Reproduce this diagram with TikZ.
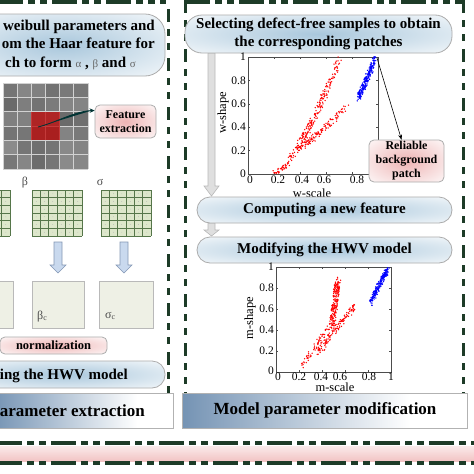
\documentclass[tikz,border=0pt]{standalone}
\usepackage{fontspec}
\setmainfont{Liberation Serif}
\usetikzlibrary{arrows.meta,fadings}
\definecolor{dgreen}{HTML}{1D3B27}
\definecolor{pillblue}{HTML}{A9C7DC}
\definecolor{pinkglow}{HTML}{EEB4B4}
\definecolor{tbdark}{HTML}{1F4A78}
\definecolor{tbmid}{HTML}{6A8BAE}
\definecolor{gridgreen}{HTML}{DDE7CB}
\definecolor{gridline}{HTML}{56764A}
\definecolor{cellbox}{HTML}{EEF0E5}
\definecolor{arrowblue}{HTML}{C9D9EE}
\definecolor{arrowedge}{HTML}{8497B5}
\definecolor{bandpink}{HTML}{F2C4C4}
\pgfdeclareradialshading{glowblue}{\pgfpoint{0bp}{0bp}}{color(0bp)=(pillblue); color(42bp)=(white); color(50bp)=(white)}
\pgfdeclareradialshading{glowpink}{\pgfpoint{0bp}{0bp}}{color(0bp)=(pinkglow); color(40bp)=(white); color(50bp)=(white)}
\pgfdeclarehorizontalshading{tbshade}{100bp}{color(0bp)=(tbdark); color(22bp)=(tbmid); color(65bp)=(white); color(100bp)=(white)}
\begin{document}
\begin{tikzpicture}[x=1pt,y=-1pt,
  vdash/.style={draw=dgreen, line width=3pt, dash pattern=on 13pt off 7pt on 7pt off 7pt on 7pt off 8pt},
  hdash/.style={draw=dgreen, line width=4pt, dash pattern=on 25pt off 5pt on 7pt off 5pt on 7pt off 5pt},
  pill/.style={draw=gray!65, line width=0.8pt, rounded corners=13pt, shade, shading=glowblue, inner sep=0pt},
  pinkbox/.style={draw=gray!65, line width=0.8pt, rounded corners=5pt, shade, shading=glowpink, inner sep=0pt, align=center, font=\bfseries\fontsize{12}{14.5}\selectfont},
  btext/.style={font=\bfseries\fontsize{15}{17.5}\selectfont, inner sep=0pt, align=center},
  ttext/.style={font=\bfseries\fontsize{17}{20}\selectfont, inner sep=0pt},
  tbar/.style={draw=gray!60, line width=0.8pt, shade, shading=tbshade, inner sep=0pt},
  ticklab/.style={font=\fontsize{11.5}{11.5}\selectfont, inner sep=0pt},
  axlab/.style={font=\fontsize{12.5}{12.5}\selectfont, inner sep=0pt},
  greeklab/.style={font=\fontsize{12}{12}\selectfont, text=black!70, inner sep=0pt},
  plotframe/.style={draw=black!70, line width=0.6pt},
  cbox/.style={draw=gray!55, line width=0.6pt, fill=cellbox, inner sep=0pt},
  blockarrow/.style={fill=arrowblue, draw=arrowedge, line width=0.6pt},
  grayarrow/.style={fill=gray!25, draw=gray!55, line width=0.6pt}]
\useasboundingbox (0,0) rectangle (474,474);
\clip (0,0) rectangle (474,474);
\fill[white] (0,0) rectangle (474,474);

% ---- panel borders
\draw[hdash] (-2,1.5) -- (166,1.5);
\draw[hdash] (185,1.5) -- (463,1.5);
\draw[vdash] (168,9) -- (168,393);
\draw[vdash] (185,0) -- (185,393);
\draw[vdash] (463,0) -- (463,393);

% ---- bottom band
\shade[top color=bandpink!35!white, bottom color=bandpink] (0,446) rectangle (474,461);
\draw[hdash] (-3,443) -- (474,443);
\draw[hdash] (-3,463) -- (474,463);

% ================= LEFT PANEL =================
\node[pill, rounded corners=20pt, minimum width=205pt, minimum height=62pt] (est) at (62.5,45) {};
\node[btext, anchor=base east] (est1) at (155,30) {weibull parameters and};
\node[btext, anchor=base east] (est2) at (155,48) {om the Haar feature for};
\node[btext, anchor=base east] (est3) at (136,67) {ch to form {\mdseries\fontsize{11}{11}\selectfont\textcolor{black!60}{α}} , {\mdseries\fontsize{11}{11}\selectfont\textcolor{black!60}{β}} and {\mdseries\fontsize{11}{11}\selectfont\textcolor{black!60}{σ}}};

% dark image grid
\pgfmathsetseed{11}
\foreach \i in {0,...,5}{\foreach \j in {0,...,5}{
  \pgfmathsetmacro\g{45+14*rnd}
  \fill[black!\g] (3+\i*14.17,83+\j*14.33) rectangle ++(14.17,14.33);
}}
\foreach \k in {0,...,6}{
  \draw[gray!35, line width=0.8pt] (3+\k*14.17,83) -- ++(0,86);
  \draw[gray!35, line width=0.8pt] (3,83+\k*14.33) -- ++(85,0);
}
\fill[red!75!black, opacity=0.72] (31.3,111.7) rectangle (59.7,140.3);
\coordinate (redc) at (38,127);

\node[pinkbox, minimum width=61pt, minimum height=33pt] (fe) at (125.5,121.5) {Feature\\extraction};
\draw[-{Stealth[length=5pt,width=4.5pt]}, draw=teal!40!black, fill=teal!40!black, line width=0.8pt] (redc) .. controls (55,123) and (75,111) .. ([yshift=11pt]fe.west);

% green grids
\node[greeklab] (lbeta) at (25,183) {β};
\node[greeklab] (lsigma) at (100,182) {σ};
\foreach \gx in {-40,32,101}{
  \fill[gridgreen] (\gx,190) rectangle ++(50,46);
  \foreach \k in {0,...,6}{
    \draw[gridline, line width=0.7pt] (\gx+\k*8.333,190) -- ++(0,46);
    \draw[gridline, line width=0.7pt] (\gx,190+\k*7.667) -- ++(50,0);
  }
  \foreach \a in {0,...,5}{\foreach \b in {0,...,5}{
    \fill[gray!60] (\gx+4.17+\a*8.333,190+3.83+\b*7.667) circle (0.35pt);
  }}
}

% block arrows
\filldraw[blockarrow] (54,242) -- (62,242) -- (62,265) -- (66,265) -- (58,273) -- (50,265) -- (54,265) -- cycle;
\filldraw[blockarrow] (120,242) -- (128,242) -- (128,265) -- (132,265) -- (124,273) -- (116,265) -- (120,265) -- cycle;

% normalized boxes
\node[cbox, minimum width=53pt, minimum height=47pt] (ac) at (-13.5,304.5) {};
\node[cbox, minimum width=52pt, minimum height=47pt] (bc) at (58,304.5) {};
\node[cbox, minimum width=54pt, minimum height=47pt] (sc) at (126,304.5) {};
\node[greeklab, anchor=base west] (bcl) at (37,319) {β\textsubscript{c}};
\node[greeklab, anchor=base west] (scl) at (105,318) {σ\textsubscript{c}};

\node[pinkbox, minimum width=107pt, minimum height=17pt, font=\bfseries\fontsize{12.5}{13}\selectfont] (norm) at (53.5,345.5) {normalization};

\node[pill, minimum width=205pt, minimum height=27pt] (hwv) at (62.5,374.5) {};
\node[btext, anchor=base east] (hwvt) at (128,379) {ing the HWV model};

\node[tbar, minimum width=180pt, minimum height=35pt] (lbar) at (83,410.5) {};
\node[ttext, anchor=base east] (ltitle) at (145,416) {arameter extraction};

% ================= RIGHT PANEL =================
\filldraw[grayarrow] (208,53) -- (215,53) -- (215,186) -- (219,186) -- (211.5,196) -- (204,186) -- (208,186) -- cycle;
\filldraw[grayarrow] (208,223) -- (215,223) -- (215,230) -- (219,230) -- (211.5,236) -- (204,230) -- (208,230) -- cycle;

\node[pill, rounded corners=17pt, minimum width=267pt, minimum height=38pt, btext] (sel) at (318.5,34) {Selecting defect-free samples to obtain\\the corresponding patches};

% plot 1
\begin{scope}[shift={(248pt,-174pt)}, x=130pt, y=117pt]
  \draw[plotframe] (0,0) rectangle (1,1);
  \foreach \v in {0.2,0.4,0.6,0.8}{
    \draw[plotframe] (\v,0) -- ++(0,0.02);
    \draw[plotframe] (\v,1) -- ++(0,-0.02);
    \draw[plotframe] (0,\v) -- ++(0.015,0);
    \draw[plotframe] (1,\v) -- ++(-0.015,0);
  }
  \pgfmathsetseed{3}
  \foreach \i in {1,...,260}{
    \pgfmathsetmacro\t{0.001+0.999*rnd}
    \pgfmathsetmacro\px{0.21+0.5*\t+0.022*rand}
    \pgfmathsetmacro\py{max(0.01,min(1,\t^1.4+0.03*rand))}
    \fill[red] (\px,\py) circle (0.75pt);
  }
  \foreach \i in {1,...,120}{
    \pgfmathsetmacro\t{0.001+0.999*rnd}
    \pgfmathsetmacro\px{0.40+0.36*\t+0.02*rand}
    \pgfmathsetmacro\py{0.22+0.36*\t^1.1+0.025*rand}
    \fill[red] (\px,\py) circle (0.75pt);
  }
  \foreach \i in {1,...,220}{
    \pgfmathsetmacro\t{rnd}
    \pgfmathsetmacro\px{0.85+0.13*\t+0.015*rand}
    \pgfmathsetmacro\py{min(1,0.65+0.34*\t+0.03*rand)}
    \fill[blue] (\px,\py) circle (0.75pt);
  }
\end{scope}
\coordinate (p1tr) at (377,58);
\foreach \v/\yy in {1/57,0.8/80.4,0.6/103.8,0.4/127.2,0.2/150.6,0/174}{
  \node[ticklab, anchor=east] at (246,\yy) {\v};
}
\node[ticklab, anchor=north] (p1x0) at (250,176) {0};
\node[ticklab, anchor=north] (p1x2) at (278,176) {0.2};
\node[ticklab, anchor=north] (p1x4) at (302,176) {0.4};
\node[ticklab, anchor=north] (p1x6) at (324,176) {0.6};
\node[ticklab, anchor=north] (p1x8) at (357,176) {0.8};
\node[axlab] (wscale) at (312,193.5) {w-scale};
\node[axlab, rotate=90] (wshape) at (223,113) {w-shape};

\node[pinkbox, minimum width=75pt, minimum height=42pt, font=\bfseries\fontsize{12}{14}\selectfont] (rel) at (406.5,161) {Reliable\\background\\patch};
\draw[-{Stealth[length=5pt,width=4pt]}, line width=0.6pt] (p1tr) -- ([xshift=-5pt]rel.north);

\node[pill, minimum width=255pt, minimum height=26pt, btext] (comp) at (324.5,210) {Computing a new feature};
\node[pill, minimum width=255pt, minimum height=26pt, btext] (modi) at (324.5,250) {Modifying the HWV model};

% plot 2
\begin{scope}[shift={(276pt,-372pt)}, x=115pt, y=105pt]
  \draw[plotframe] (0,0) rectangle (1,1);
  \foreach \v in {0.2,0.4,0.6,0.8}{
    \draw[plotframe] (\v,0) -- ++(0,0.02);
    \draw[plotframe] (\v,1) -- ++(0,-0.02);
    \draw[plotframe] (0,\v) -- ++(0.015,0);
    \draw[plotframe] (1,\v) -- ++(-0.015,0);
  }
  \pgfmathsetseed{5}
  \foreach \i in {1,...,70}{
    \pgfmathsetmacro\t{rnd}
    \pgfmathsetmacro\px{0.22+0.28*\t+0.02*rand}
    \pgfmathsetmacro\py{max(0.03,0.05+0.42*\t+0.03*rand)}
    \fill[red] (\px,\py) circle (0.75pt);
  }
  \foreach \i in {1,...,200}{
    \pgfmathsetmacro\t{0.001+0.999*rnd}
    \pgfmathsetmacro\px{0.49+0.05*\t+0.025*rand}
    \pgfmathsetmacro\py{0.42+0.46*\t^0.8+0.03*rand}
    \fill[red] (\px,\py) circle (0.75pt);
  }
  \foreach \i in {1,...,120}{
    \pgfmathsetmacro\t{rnd}
    \pgfmathsetmacro\px{0.36+0.32*\t+0.02*rand}
    \pgfmathsetmacro\py{0.18+0.45*\t+0.03*rand}
    \fill[red] (\px,\py) circle (0.75pt);
  }
  \foreach \i in {1,...,200}{
    \pgfmathsetmacro\t{rnd}
    \pgfmathsetmacro\px{0.82+0.15*\t+0.015*rand}
    \pgfmathsetmacro\py{min(0.99,0.66+0.32*\t+0.03*rand)}
    \fill[blue] (\px,\py) circle (0.75pt);
  }
\end{scope}
\foreach \v/\yy in {1/267,0.8/288,0.6/309,0.4/330,0.2/351,0/371}{
  \node[ticklab, anchor=east] at (274,\yy) {\v};
}
\node[ticklab, anchor=north] (p2x0) at (278,373) {0};
\node[ticklab, anchor=north] (p2x2) at (299,373) {0.2};
\node[ticklab, anchor=north] (p2x4) at (321,373) {0.4};
\node[ticklab, anchor=north] (p2x6) at (340,373) {0.6};
\node[ticklab, anchor=north] (p2x8) at (369,373) {0.8};
\node[ticklab, anchor=north] (p2x10) at (391,373) {1};
\node[axlab] (mscale) at (335,387.5) {m-scale};
\node[axlab, rotate=90] (mshape) at (250,318) {m-shape};

\node[tbar, minimum width=285pt, minimum height=35pt] (rbar) at (324.5,410.5) {};
\node[ttext] (rtitle) at (325,410) {Model parameter modification};
\end{tikzpicture}
\end{document}
